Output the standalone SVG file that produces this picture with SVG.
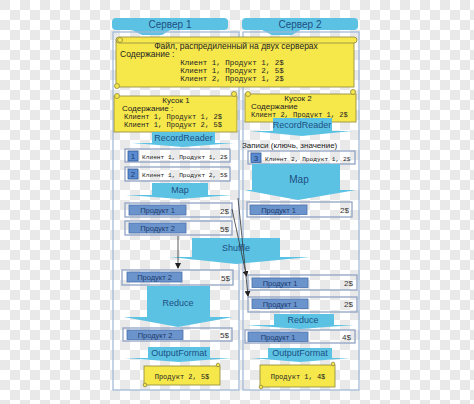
<svg xmlns="http://www.w3.org/2000/svg" width="474" height="404" viewBox="0 0 474 404">
<defs>
<pattern id="chk" width="20" height="20" patternUnits="userSpaceOnUse">
<rect width="20" height="20" fill="#ffffff"/>
<rect width="10" height="10" fill="#e9e9e9"/>
<rect x="10" y="10" width="10" height="10" fill="#e9e9e9"/>
</pattern>
<marker id="ah" markerWidth="6" markerHeight="6" refX="5" refY="3" orient="auto" markerUnits="userSpaceOnUse">
<path d="M0,0 L6,3 L0,6 z" fill="#222"/>
</marker>
</defs>
<style>
.blue{fill:#5cc2e4;}
.bt{font-family:"Liberation Sans",Arial,sans-serif;fill:#1d4f82;text-anchor:middle;}
.srv{fill:none;stroke:#9fb6d8;stroke-width:1.2;}
.row{fill:none;stroke:#8fa3c4;stroke-width:1.3;}
.lab{fill:#6b94cc;stroke:#4a72b0;stroke-width:0.8;}
.lt{font-family:"Liberation Sans",Arial,sans-serif;font-size:7.5px;fill:#1d3c6e;text-anchor:middle;}
.val{font-family:"Liberation Sans",Arial,sans-serif;font-size:8px;fill:#333;text-anchor:end;}
.mono{font-family:"Liberation Mono","DejaVu Sans Mono",monospace;fill:#222;}
.sans{font-family:"Liberation Sans",Arial,sans-serif;fill:#222;}
.yel{fill:#f6e84a;stroke:#9a9244;stroke-width:0.9;}
.num{fill:#5b8bd0;stroke:#2f5a9a;stroke-width:0.8;}
.nt{font-family:"Liberation Sans",Arial,sans-serif;font-size:8px;fill:#1d3c6e;text-anchor:middle;}
.ln{stroke:#333;stroke-width:0.8;fill:none;}
</style>
<rect width="474" height="404" fill="url(#chk)"/>

<g id="server1">
<rect class="blue" x="112" y="18" width="116" height="12" rx="4"/>
<polygon class="blue" points="130,29 172,29 162,35 142,35"/>
<text class="bt" x="170" y="27.5" font-size="10">Сервер 1</text>
<rect class="srv" x="113" y="32" width="126" height="358"/>
</g>
<g id="server2">
<rect class="blue" x="242" y="18" width="116" height="12" rx="4"/>
<polygon class="blue" points="260,29 302,29 292,35 272,35"/>
<text class="bt" x="300" y="27.5" font-size="10">Сервер 2</text>
<rect class="srv" x="243" y="32" width="116" height="358"/>
</g>

<g id="file">
<rect class="yel" x="116" y="40" width="238" height="47"/>
<rect class="yel" x="116" y="37" width="241" height="6" rx="3"/>
<circle class="yel" cx="120" cy="40" r="2.5"/>
<circle class="yel" cx="117" cy="86" r="2.5"/>
<text class="sans" x="236" y="49" font-size="8.5" text-anchor="middle">Файл, распредиленный на двух серверах</text>
<text class="sans" x="120" y="57" font-size="8.5">Содержание :</text>
<text class="mono" x="232" y="64.5" font-size="7.5" text-anchor="middle">Клиент 1, Продукт 1, 2$</text>
<text class="mono" x="232" y="72.5" font-size="7.5" text-anchor="middle">Клиент 1, Продукт 2, 5$</text>
<text class="mono" x="232" y="80.5" font-size="7.5" text-anchor="middle">Клиент 2, Продукт 1, 2$</text>
</g>

<g id="chunk1">
<rect class="yel" x="114" y="96" width="123" height="36"/>
<circle class="yel" cx="117" cy="96" r="2.5"/>
<circle class="yel" cx="234" cy="94" r="2.5"/>
<text class="sans" x="176" y="103" font-size="8" text-anchor="middle">Кусок 1</text>
<text class="sans" x="122" y="111" font-size="8">Содержание :</text>
<text class="mono" x="124" y="119" font-size="7.1">Клиент 1, Продукт 1, 2$</text>
<text class="mono" x="124" y="127" font-size="7.1">Клиент 1, Продукт 2, 5$</text>
</g>
<g id="chunk2">
<rect class="yel" x="245" y="94" width="111" height="28"/>
<circle class="yel" cx="248" cy="94" r="2.5"/>
<circle class="yel" cx="353" cy="92" r="2.5"/>
<text class="sans" x="298" y="100.5" font-size="8" text-anchor="middle">Кусок 2</text>
<text class="sans" x="251" y="108.5" font-size="8">Содержание</text>
<text class="mono" x="251" y="117" font-size="7">Клиент 2, Продукт 1, 2$</text>
</g>

<g id="recordreader1">
<rect class="blue" x="152" y="132" width="63" height="11"/>
<polygon class="blue" points="132,143 234,143 183,147"/>
<text class="bt" x="183.5" y="140.5" font-size="9">RecordReader</text>
</g>
<g id="recordreader2">
<rect class="blue" x="273" y="118" width="59" height="13"/>
<polygon class="blue" points="250,131 352,131 302,136"/>
<text class="bt" x="302" y="128" font-size="9">RecordReader</text>
</g>
<g id="records-label">
<text class="sans" x="242" y="148" font-size="8">Записи (ключь, значение)</text>
</g>

<g id="rec1">
<rect class="row" x="125" y="149" width="105" height="13"/>
<rect class="num" x="128" y="151" width="10" height="10"/>
<text class="nt" x="133" y="159">1</text>
<text class="mono" x="142" y="158.5" font-size="6.2">Клиент 1, Продукт 1, 2$</text>
</g>
<g id="rec2">
<rect class="row" x="125" y="167" width="105" height="14"/>
<rect class="num" x="128" y="169" width="10" height="10"/>
<text class="nt" x="133" y="177">2</text>
<text class="mono" x="142" y="176.5" font-size="6.2">Клиент 1, Продукт 2, 5$</text>
</g>
<g id="rec3">
<rect class="row" x="248" y="151" width="107" height="13"/>
<rect class="num" x="251" y="153" width="10" height="9.5"/>
<text class="nt" x="256" y="160.5">3</text>
<text class="mono" x="265" y="160.5" font-size="6.2">Клиент 2, Продукт 1, 2$</text>
</g>

<g id="map1">
<rect class="blue" x="152" y="183" width="56" height="12"/>
<polygon class="blue" points="126,195 232,195 180,199"/>
<text class="bt" x="180" y="192.5" font-size="9">Map</text>
</g>
<g id="map2">
<rect class="blue" x="252" y="164" width="88" height="26"/>
<polygon class="blue" points="244,190 356,190 298,200"/>
<text class="bt" x="299" y="183" font-size="10">Map</text>
</g>

<g id="m1p1">
<rect class="row" x="125" y="203" width="107" height="14"/>
<rect class="lab" x="129" y="205" width="57" height="10"/>
<text class="lt" x="157.5" y="213">Продукт 1</text>
<text class="val" x="229" y="213.5">2$</text>
</g>
<g id="m1p2">
<rect class="row" x="125" y="221" width="107" height="14"/>
<rect class="lab" x="129" y="223" width="57" height="10"/>
<text class="lt" x="157.5" y="231">Продукт 2</text>
<text class="val" x="229" y="231.5">5$</text>
</g>
<g id="m2p1">
<rect class="row" x="247" y="202" width="105" height="15"/>
<rect class="lab" x="250" y="205" width="57" height="9.5"/>
<text class="lt" x="278.5" y="212.5">Продукт 1</text>
<text class="val" x="349" y="213">2$</text>
</g>

<g id="shuffle">
<rect class="blue" x="192" y="238" width="88" height="19"/>
<polygon class="blue" points="170,257 310,257 236,264"/>
<text class="bt" x="236" y="251" font-size="9">Shuffle</text>
</g>

<g id="s1p2">
<rect class="row" x="122" y="270" width="111" height="15"/>
<rect class="lab" x="127" y="272" width="55" height="10"/>
<text class="lt" x="154.5" y="280">Продукт 2</text>
<text class="val" x="230" y="280.5">5$</text>
</g>
<g id="s2p1a">
<rect class="row" x="248" y="275" width="109" height="15"/>
<rect class="lab" x="252" y="278" width="56" height="9.5"/>
<text class="lt" x="280" y="285.5">Продукт 1</text>
<text class="val" x="353" y="286">2$</text>
</g>
<g id="s2p1b">
<rect class="row" x="248" y="297" width="109" height="15"/>
<rect class="lab" x="252" y="299" width="56" height="9.5"/>
<text class="lt" x="280" y="306.5">Продукт 1</text>
<text class="val" x="353" y="307">2$</text>
</g>

<g id="reduce1">
<rect class="blue" x="147" y="286" width="63" height="31"/>
<polygon class="blue" points="124,317 233,317 178,327"/>
<text class="bt" x="178" y="306" font-size="9">Reduce</text>
</g>
<g id="reduce2">
<rect class="blue" x="274" y="314" width="60" height="11"/>
<polygon class="blue" points="246,325 354,325 300,329"/>
<text class="bt" x="303" y="322.5" font-size="9">Reduce</text>
</g>

<g id="r1">
<rect class="row" x="123" y="328" width="109" height="13"/>
<rect class="lab" x="127" y="330" width="56" height="9.5"/>
<text class="lt" x="155" y="337.5">Продукт 2</text>
<text class="val" x="229" y="338">5$</text>
</g>
<g id="r2">
<rect class="row" x="245" y="330" width="110" height="13"/>
<rect class="lab" x="248" y="332" width="60" height="9.5"/>
<text class="lt" x="278" y="339.5">Продукт 1</text>
<text class="val" x="351" y="340">4$</text>
</g>

<g id="of1">
<rect class="blue" x="148" y="347" width="62" height="11"/>
<polygon class="blue" points="125,358 232,358 179,362"/>
<text class="bt" x="179" y="355.5" font-size="9">OutputFormat</text>
</g>
<g id="of2">
<rect class="blue" x="268" y="348" width="64" height="10"/>
<polygon class="blue" points="250,358 350,358 300,362"/>
<text class="bt" x="300" y="356" font-size="9">OutputFormat</text>
</g>

<g id="out1">
<rect class="yel" x="144" y="366" width="76" height="19"/>
<circle class="yel" cx="218" cy="365" r="1.8"/>
<circle class="yel" cx="145" cy="385" r="1.8"/>
<text class="mono" x="182" y="378.5" font-size="7" text-anchor="middle">Продукт 2, 5$</text>
</g>
<g id="out2">
<rect class="yel" x="260" y="365" width="75" height="22"/>
<circle class="yel" cx="333" cy="364" r="1.8"/>
<circle class="yel" cx="261" cy="387" r="1.8"/>
<text class="mono" x="298" y="378.5" font-size="7" text-anchor="middle">Продукт 1, 4$</text>
</g>

<g id="connectors">
<line class="ln" x1="178" y1="236" x2="178" y2="268" marker-end="url(#ah)"/>
<line class="ln" x1="232" y1="209" x2="246.5" y2="276" marker-end="url(#ah)"/>
<line class="ln" x1="238" y1="198" x2="248" y2="296" marker-end="url(#ah)"/>
</g>
</svg>
